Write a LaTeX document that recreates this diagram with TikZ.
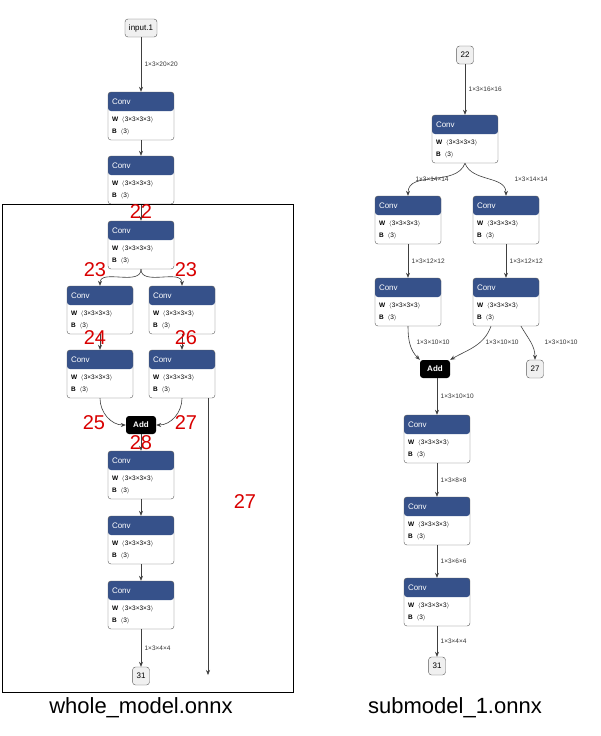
\documentclass[tikz,border=0pt]{standalone}
\usepackage{fontspec}
\setmainfont{Liberation Sans}
\usetikzlibrary{arrows.meta}
\definecolor{hdr}{HTML}{36518A}
\tikzset{
 x=1pt,y=-1pt,
 convb/.style={draw=gray!70!black,rounded corners=3pt,minimum width=66pt,minimum height=48pt,inner sep=0,
   path picture={\fill[hdr] (path picture bounding box.north west) rectangle ([yshift=-19pt]path picture bounding box.north east);}},
 tnode/.style={draw=gray!70!black,fill=gray!12,rounded corners=3pt,font=\fontsize{8}{9}\selectfont,minimum height=18pt,inner xsep=4pt},
 addn/.style={fill=black,text=white,rounded corners=3pt,font=\bfseries\fontsize{8}{9}\selectfont,minimum width=30pt,minimum height=18pt},
 lbl/.style={font=\fontsize{6.5}{7}\selectfont,text=black!80},
 rednum/.style={text=red!85!black,font=\fontsize{20}{22}\selectfont},
 captxt/.style={font=\fontsize{22}{24}\selectfont},
 arr/.style={-{Stealth[length=5pt,width=4pt]},draw=black!75,line width=0.6pt},
}
\newcommand\convbox[3]{%
 \node[convb] (#1) at (#2,#3) {};
 \node[anchor=west,text=white,font=\fontsize{8}{9}\selectfont,inner sep=0] at ([xshift=4pt,yshift=-10pt]#1.north west) {Conv};
 \node[anchor=west,font=\fontsize{6.5}{7}\selectfont,inner sep=0] at ([xshift=4pt,yshift=-28pt]#1.north west) {\textbf{W}\; $\langle$3×3×3×3$\rangle$};
 \node[anchor=west,font=\fontsize{6.5}{7}\selectfont,inner sep=0] at ([xshift=4pt,yshift=-40pt]#1.north west) {\textbf{B}\; $\langle$3$\rangle$};
}
\begin{document}
\begin{tikzpicture}
\useasboundingbox (0,0) rectangle (600,736);
\fill[white] (0,0) rectangle (600,736);
% ---- left
\node[tnode] (in) at (141,28) {input.1};
\convbox{l1}{141}{116}
\convbox{l2}{141}{180}
\convbox{l3}{141}{245}
\convbox{l4}{100}{310}
\convbox{l5}{182}{310}
\convbox{l6}{100}{374}
\convbox{l7}{182}{374}
\node[addn] (ladd) at (141,425) {Add};
\convbox{l8}{141}{475}
\convbox{l9}{141}{540}
\convbox{l10}{141}{605}
\node[tnode] (l31) at (141,676) {31};
\coordinate (lend) at (208,675);
\draw[arr] (in) -- node[lbl,right]{1×3×20×20} (l1);
\draw[arr] (l1) -- (l2);
\draw[arr] (l2) -- (l3);
\draw[arr] (l3.south) to[out=-90,in=90] (l4.north);
\draw[arr] (l3.south) to[out=-90,in=90] (l5.north);
\draw[arr] (l4) -- (l6);
\draw[arr] (l5) -- (l7);
\draw[arr] (l6.south) to[out=-90,in=180] (ladd.west);
\draw[arr] (l7.south) to[out=-90,in=0] (ladd.east);
\draw[arr] (ladd) -- (l8);
\draw[arr] (l8) -- (l9);
\draw[arr] (l9) -- (l10);
\draw[arr] (l10) -- node[lbl,right]{1×3×4×4} (l31);
\draw[arr] (l7.south -| lend) -- (lend);
\draw[black,line width=0.8pt] (2,204) rectangle (293,692);
\node[rednum] at (141,212) {22};
\node[rednum] at (95,270) {23};
\node[rednum] at (186,270) {23};
\node[rednum] at (95,338) {24};
\node[rednum] at (186,338) {26};
\node[rednum] at (94,423) {25};
\node[rednum] at (186,423) {27};
\node[rednum] at (141,443) {28};
\node[rednum] at (245,502) {27};
\node[captxt] at (141,708) {whole\_model.onnx};
% ---- right
\node[tnode] (r22) at (465,55) {22};
\convbox{r1}{465}{139}
\convbox{r2}{408}{220}
\convbox{r3}{506}{220}
\convbox{r4}{408}{302}
\convbox{r5}{506}{302}
\node[addn] (radd) at (435,369) {Add};
\node[tnode] (r27) at (535,369) {27};
\convbox{r6}{437}{439}
\convbox{r7}{437}{521}
\convbox{r8}{437}{602}
\node[tnode] (r31) at (437,666) {31};
\draw[arr] (r22) -- node[lbl,right]{1×3×16×16} (r1);
\draw[arr] (r1.south) to[out=-110,in=90] (r2.north);
\draw[arr] (r1.south) to[out=-70,in=90] (r3.north);
\node[lbl,anchor=west] at (412,179) {1×3×14×14};
\node[lbl,anchor=west] at (511,179) {1×3×14×14};
\draw[arr] (r2) -- node[lbl,right]{1×3×12×12} (r4);
\draw[arr] (r3) -- node[lbl,right]{1×3×12×12} (r5);
\draw[arr] (r4.south) to[out=-90,in=135] (radd.north west);
\draw[arr] ([xshift=-15pt]r5.south) to[out=-110,in=30] (radd.north east);
\draw[arr] ([xshift=15pt]r5.south) to[out=-60,in=90] (r27.north);
\node[lbl,anchor=west] at (413,342) {1×3×10×10};
\node[lbl,anchor=west] at (482,342) {1×3×10×10};
\node[lbl,anchor=west] at (541,342) {1×3×10×10};
\draw[arr] (radd.south -| r6) -- node[lbl,right]{1×3×10×10} (r6);
\draw[arr] (r6) -- node[lbl,right]{1×3×8×8} (r7);
\draw[arr] (r7) -- node[lbl,right]{1×3×6×6} (r8);
\draw[arr] (r8) -- node[lbl,right]{1×3×4×4} (r31);
\node[captxt] at (455,708) {submodel\_1.onnx};
\end{tikzpicture}
\end{document}
